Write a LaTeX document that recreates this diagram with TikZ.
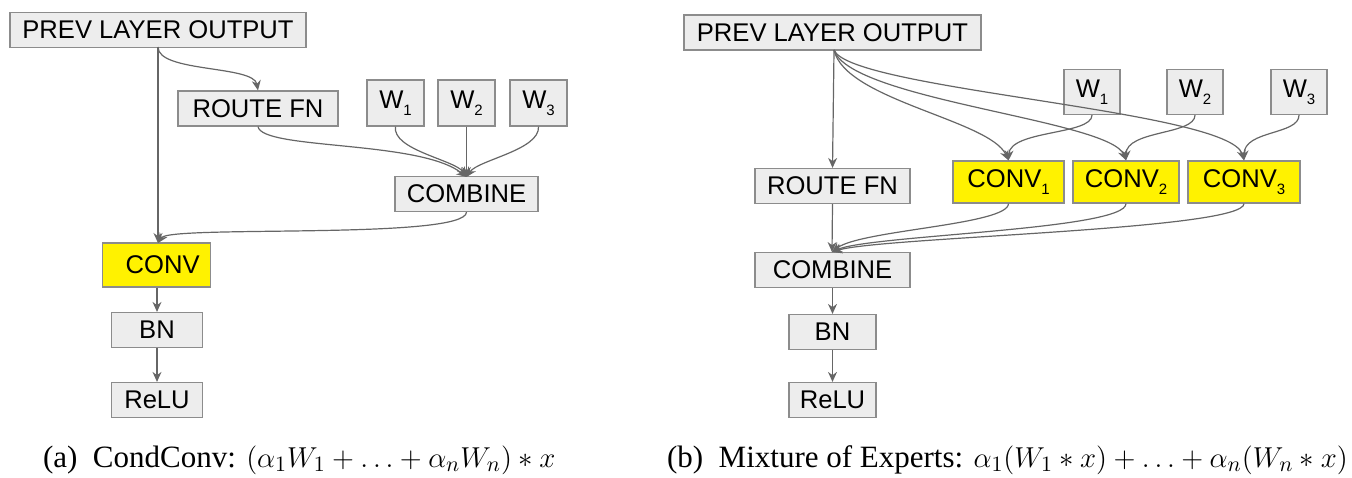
\documentclass[tikz,border=0pt]{standalone}
\usepackage{fontspec}
\setmainfont{Liberation Sans}
\newfontfamily\capfont{Liberation Serif}
\usetikzlibrary{arrows.meta}
\begin{document}
\begin{tikzpicture}[x=0.5pt,y=-0.5pt,
  box/.style={draw=black!45,fill=black!7,line width=0.6pt,inner sep=0pt,minimum height=17.5pt,font=\fontsize{12.8}{13}\selectfont},
  yel/.style={box,fill=yellow},
  ar/.style={draw=black!60,line width=0.6pt,-{Stealth[length=5pt,width=4.5pt]}},
  ln/.style={draw=black!60,line width=0.6pt}]
\useasboundingbox (0,0) rectangle (1352,477);
\newcommand{\sbx}[1]{\raisebox{-3.5pt}{\fontsize{7.5}{7.5}\selectfont #1}}
% left
\node[box,minimum width=148pt] (pa) at (158,30) {PREV LAYER OUTPUT};
\node[box,minimum width=80pt] (ra) at (258,108.5) {ROUTE FN};
\node[box,minimum width=28.5pt,minimum height=23pt] (wa1) at (395.5,103) {W\sbx{1}};
\node[box,minimum width=28.5pt,minimum height=23pt] (wa2) at (466.5,103) {W\sbx{2}};
\node[box,minimum width=28.5pt,minimum height=23pt] (wa3) at (538.5,103) {W\sbx{3}};
\node[box,minimum width=71.5pt] (ca) at (466.5,194) {COMBINE};
\node[yel,minimum width=54pt,minimum height=22pt,anchor=west,inner xsep=0pt] (cva) at (102,265) {\hspace{6pt}CONV\hfill};
\node[box,minimum width=45.5pt] (ba) at (157,330) {BN};
\node[box,minimum width=45.5pt] (rla) at (157,400) {ReLU};
\coordinate (pa0) at (158,47);
\coordinate (cva0) at (158,243);
\coordinate (ca0) at (466.5,177);
\draw[ar] (pa0) -- (cva0);
\draw[ar] (pa0) to[out=-90,in=100,looseness=0.6] (ra.north);
\draw[ar] (ra.south) .. controls (262,150) and (420,140) .. (ca0);
\draw[ar] (wa1.south) .. controls (392,150) and (455,160) .. (ca0);
\draw[ar] (wa2.south) -- (ca0);
\draw[ar] (wa3.south) .. controls (540,150) and (478,160) .. (ca0);
\draw[ar] (ca.south) .. controls (466,240) and (170,225) .. (cva0);
\draw[ar] (cva.south -| ba.north) -- (ba.north);
\draw[ar] (ba.south) -- (rla.north);
\node[anchor=west,font=\capfont\fontsize{15.5}{16}\selectfont] (capa) at (36,460) {(a)\ \ CondConv: $(\alpha_1W_1+\ldots+\alpha_nW_n)*x$};
% right
\node[box,minimum width=148.5pt] (pb) at (832.5,32.5) {PREV LAYER OUTPUT};
\node[box,minimum width=28pt,minimum height=22.5pt] (wb1) at (1092,92) {W\sbx{1}};
\node[box,minimum width=28pt,minimum height=22.5pt] (wb2) at (1195,92) {W\sbx{2}};
\node[box,minimum width=28pt,minimum height=22.5pt] (wb3) at (1299,92) {W\sbx{3}};
\node[yel,minimum width=55.5pt,minimum height=21pt] (cv1) at (1008.5,182) {CONV\sbx{1}};
\node[yel,minimum width=53pt,minimum height=21pt] (cv2) at (1126,182) {CONV\sbx{2}};
\node[yel,minimum width=56pt,minimum height=21pt] (cv3) at (1244,182) {CONV\sbx{3}};
\node[box,minimum width=77.5pt] (rb) at (832.5,186) {ROUTE FN};
\node[box,minimum width=77.5pt] (cb) at (832.5,270) {COMBINE};
\node[box,minimum width=43.5pt] (bb) at (832.5,332) {BN};
\node[box,minimum width=43.5pt] (rlb) at (832.5,400) {ReLU};
\coordinate (pb0) at (834,50);
\coordinate (cb0) at (832,252);
\draw[ar] (pb0) -- (rb.north);
\draw[ar] (pb0) .. controls (845,100) and (990,120) .. (cv1.north);
\draw[ar] (pb0) .. controls (850,100) and (1110,120) .. (cv2.north);
\draw[ar] (pb0) .. controls (850,90) and (1230,110) .. (cv3.north);
\draw[ar] (wb1.south) .. controls (1092,135) and (1010,130) .. (cv1.north);
\draw[ar] (wb2.south) .. controls (1195,135) and (1126,130) .. (cv2.north);
\draw[ar] (wb3.south) .. controls (1299,135) and (1244,130) .. (cv3.north);
\draw[ar] (rb.south) -- (cb0);
\draw[ar] (cv1.south) .. controls (1008,225) and (860,230) .. (cb0);
\draw[ar] (cv2.south) .. controls (1126,230) and (870,235) .. (cb0);
\draw[ar] (cv3.south) .. controls (1244,230) and (880,237) .. (cb0);
\draw[ar] (cb.south) -- (bb.north);
\draw[ar] (bb.south) -- (rlb.north);
\node[anchor=west,font=\capfont\fontsize{15.5}{16}\selectfont] (capb) at (660,460) {(b)\ \ Mixture of Experts: $\alpha_1(W_1*x)+\ldots+\alpha_n(W_n*x)$};
\end{tikzpicture}
\end{document}
